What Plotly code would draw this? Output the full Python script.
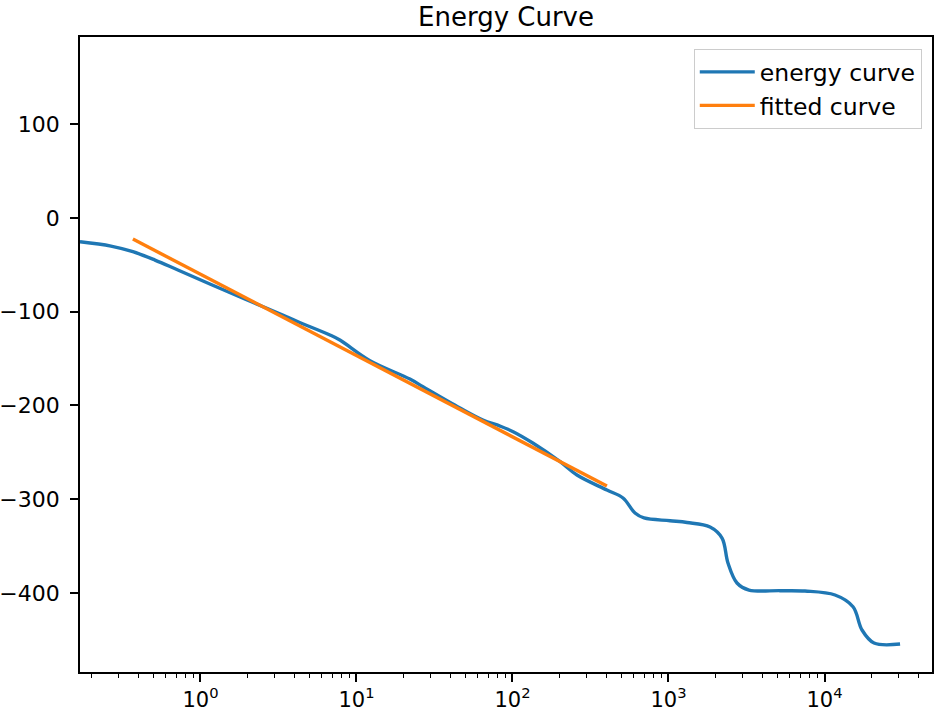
import plotly.graph_objects as go

# energy curve
energy_x = [0.169, 0.267, 0.369, 0.511, 0.717, 1.50, 3.14, 4.22, 6.76, 7.83, 12.2, 22.0, 26.7,
            46.1, 64.7, 83.2, 101, 135, 202, 259, 403, 511, 610, 697, 1023, 1315,
            1846, 2204, 2406, 2748, 3281, 5185, 7501, 11680, 15230, 17390, 20770, 30500]
energy_y = [-25.5, -30.1, -36.1, -45.0, -55.6, -78.8, -101.5, -110.8, -124.9, -130.3, -152.3, -171.9, -180.1,
            -202.8, -215.6, -222.0, -228.0, -240.1, -260.0, -274.2, -290.2, -298.7, -314.7, -320.0,
            -322.9, -324.8, -329.6, -341.4, -368.0, -389.3, -396.8, -397.5, -397.9, -402.1, -414.6,
            -439.4, -453.3, -454.4]

# fitted curve (straight line in semi-log space)
fit_x = [0.369, 403]
fit_y = [-22.6, -285.9]

y_ticks = [100, 0, -100, -200, -300, -400]
y_tick_text = ["100", "0", "\u2212100", "\u2212200", "\u2212300", "\u2212400"]
x_ticks = [1, 10, 100, 1000, 10000]
x_tick_text = ["10<sup>0</sup>", "10<sup>1</sup>", "10<sup>2</sup>", "10<sup>3</sup>", "10<sup>4</sup>"]

minor_vals = [m * 10 ** e for e in range(-1, 5) for m in range(2, 10)]

FONT = "DejaVu Sans"

fig = go.Figure()
fig.add_trace(go.Scatter(x=energy_x, y=energy_y, mode="lines", name="energy curve",
                         line=dict(color="#1f77b4", width=3.4, shape="spline", smoothing=1.0)))
fig.add_trace(go.Scatter(x=fit_x, y=fit_y, mode="lines", name="fitted curve",
                         line=dict(color="#ff7f0e", width=3.4)))

fig.update_layout(
    width=938, height=712,
    margin=dict(l=80, r=6, t=37, b=40, autoexpand=False),
    paper_bgcolor="white", plot_bgcolor="white",
    font=dict(family=FONT, size=22, color="black"),
    title=dict(text="Energy Curve", x=0.5, xref="paper", y=1 - 17 / 712, yref="container",
               xanchor="center", yanchor="middle",
               font=dict(family=FONT, size=26, color="black")),
    showlegend=True,
    legend=dict(x=0.988, y=0.981, xanchor="right", yanchor="top", itemwidth=55,
                entrywidth=190, entrywidthmode="pixels",
                bgcolor="rgba(255,255,255,0.8)", bordercolor="#cccccc", borderwidth=1,
                font=dict(family=FONT, size=23.5, color="black")),
)

fig.update_xaxes(type="log", range=[-0.772, 4.689], showgrid=False, zeroline=False,
                 showline=True, mirror=True, linecolor="black", linewidth=1.8,
                 ticks="outside", ticklen=8, tickwidth=1.8, tickcolor="black",
                 tickvals=x_ticks, ticktext=x_tick_text, ticklabelstandoff=0, automargin=False,
                 tickfont=dict(size=21),
                 minor=dict(ticks="outside", ticklen=4.5, tickwidth=1.4, tickcolor="black",
                            tickvals=minor_vals, showgrid=False))
fig.update_yaxes(range=[-484.2, 192.8], showgrid=False, zeroline=False,
                 showline=True, mirror=True, linecolor="black", linewidth=1.8,
                 ticks="outside", ticklen=8, tickwidth=1.8, tickcolor="black",
                 tickvals=y_ticks, ticktext=y_tick_text, ticklabelstandoff=6, automargin=False)

fig.write_html("out.html", config={"displayModeBar": False},
               post_script="document.body.style.margin='0';document.body.style.overflow='hidden';")
